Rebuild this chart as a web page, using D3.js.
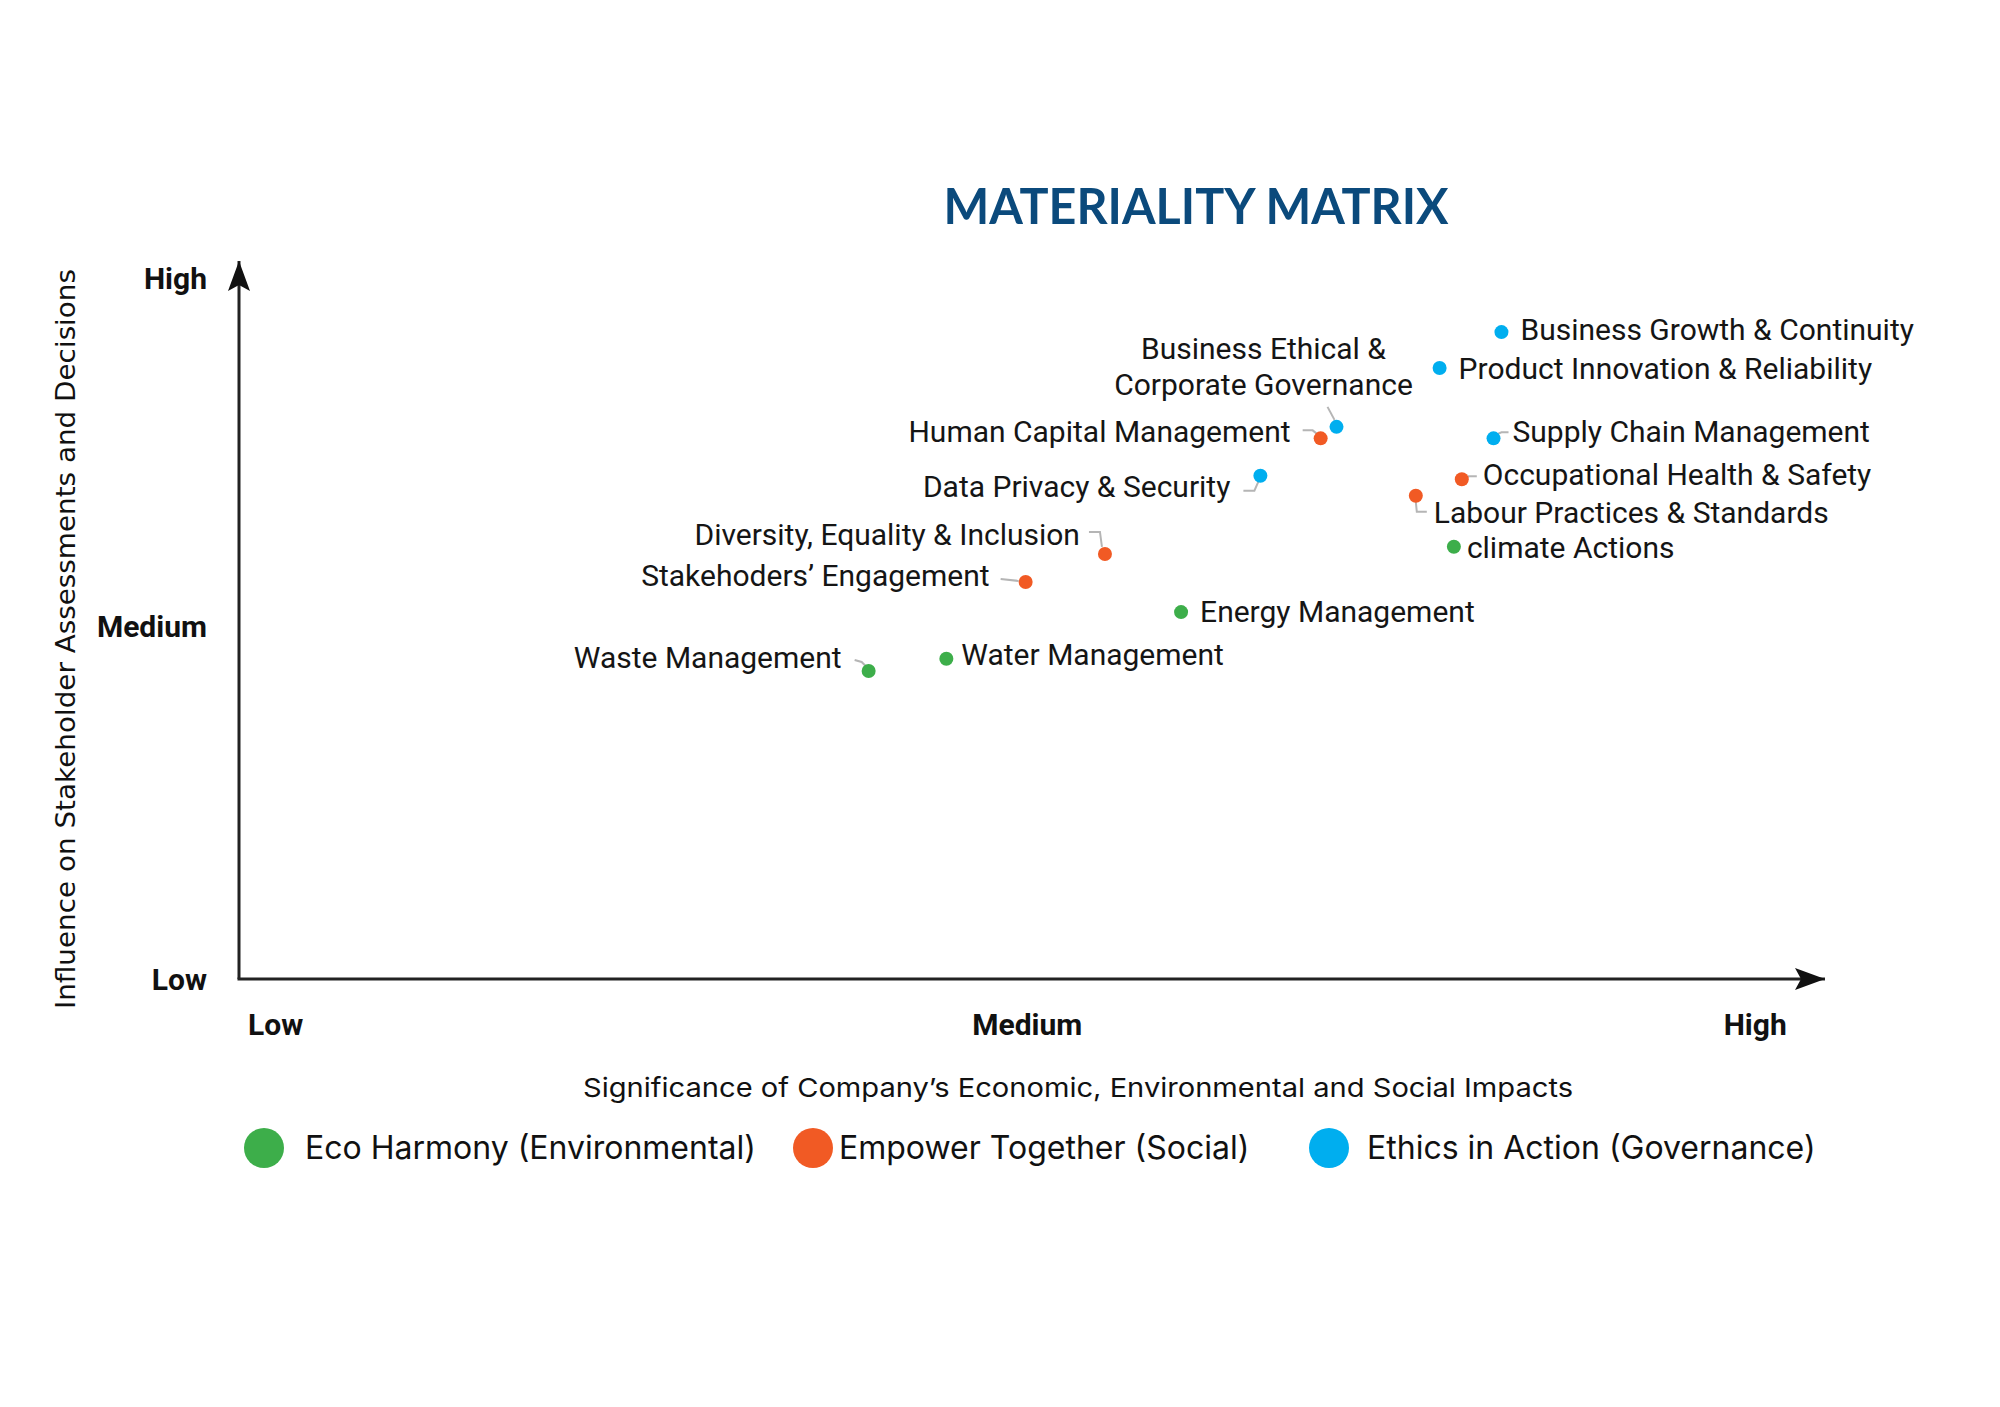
<!DOCTYPE html>
<html>
<head>
<meta charset="utf-8">
<script src="https://cdn.jsdelivr.net/npm/d3@7"></script>
<style>
  body { margin: 0; background: #fff; }
</style>
</head>
<body>
<div id="chart"></div>
<script>
// materiality topics (x = significance of impacts, y = influence on stakeholders, 0..10)
var topicNames = [
  "Business Growth & Continuity",
  "Product Innovation & Reliability",
  "Business Ethical & Corporate Governance",
  "Human Capital Management",
  "Supply Chain Management",
  "Data Privacy & Security",
  "Occupational Health & Safety",
  "Labour Practices & Standards",
  "climate Actions",
  "Diversity, Equality & Inclusion",
  "Stakehoders\u2019 Engagement",
  "Energy Management",
  "Water Management",
  "Waste Management"
];
var topicImpact    = [7.96, 7.57, 6.92, 6.82, 7.91, 6.44, 7.71, 7.42, 7.66, 5.46, 4.96, 5.94, 4.46, 3.97];
var topicInfluence = [9.01, 8.51, 7.69, 7.53, 7.53, 7.01, 6.96, 6.73, 6.02, 5.92, 5.53, 5.11, 4.46, 4.29];
var topicGroup     = [2, 2, 2, 1, 2, 2, 1, 1, 0, 1, 1, 0, 0, 0];

var groupNames  = ["Eco Harmony (Environmental)", "Empower Together (Social)", "Ethics in Action (Governance)"];
var groupColors = ["#3dae4a", "#f15a24", "#00aeef"];

var levelLabels = ["Low", "Medium", "High"];
var xLevelValues = [0, 4.97, 9.56];
var yLevelValues = [0, 4.92, 9.76];

var chartTitle = "MATERIALITY MATRIX";
var xTitle = "Significance of Company\u2019s Economic, Environmental and Social Impacts";
var yTitle = "Influence on Stakeholder Assessments and Decisions";

// label placement relative to each dot (layout only)
var labelLayout = [
  {anchor: "start", dx: 19, dy: 8},
  {anchor: "start", dx: 19, dy: 11},
  {anchor: "middle", dx: -73, dy: -68, lines: ["Business Ethical &", "Corporate Governance"], leader: [[-9, -20], [-2, -7]]},
  {anchor: "end", dx: -30, dy: 4, leader: [[-18, -8], [-8, -8], [-3, -4]]},
  {anchor: "start", dx: 19, dy: 4, leader: [[3, -4], [8, -6], [15, -6]]},
  {anchor: "end", dx: -30, dy: 21, leader: [[-17, 15], [-6, 15], [-2, 6]]},
  {anchor: "start", dx: 21, dy: 6, leader: [[6, -3], [15, -3]]},
  {anchor: "start", dx: 18, dy: 27, leader: [[0, 6], [1, 16], [11, 16]]},
  {anchor: "start", dx: 13, dy: 11},
  {anchor: "end", dx: -25, dy: -9, leader: [[-16, -22], [-5, -22], [-3, -7]]},
  {anchor: "end", dx: -36, dy: 4, leader: [[-25, -3], [-7, -1]]},
  {anchor: "start", dx: 19, dy: 10},
  {anchor: "start", dx: 15, dy: 6},
  {anchor: "end", dx: -27, dy: -3, leader: [[-14, -11], [-7, -9], [-3, -5]]}
];

const width = 2000, height = 1407;

const svg = d3.select("#chart").append("svg")
  .attr("width", width)
  .attr("height", height);

const x = d3.scaleLinear().domain([0, 10]).range([239, 1825]);
const y = d3.scaleLinear().domain([0, 10]).range([979, 261]);

// arrow heads
const defs = svg.append("defs");
defs.append("marker")
  .attr("id", "arrow")
  .attr("viewBox", "0 0 30 22")
  .attr("refX", 30).attr("refY", 11)
  .attr("markerWidth", 30).attr("markerHeight", 22)
  .attr("markerUnits", "userSpaceOnUse")
  .attr("orient", "auto")
  .append("path")
  .attr("d", "M0,0 L30,11 L0,22 L6,11 Z")
  .attr("fill", "#111");

// title
svg.append("text")
  .attr("x", 1196).attr("y", 224)
  .attr("text-anchor", "middle")
  .attr("font-family", "Lato, 'Open Sans', sans-serif")
  .attr("font-weight", 700)
  .attr("font-size", 50)
  .attr("textLength", 505)
  .attr("lengthAdjust", "spacingAndGlyphs")
  .attr("fill", "#0b4a7c")
  .text(chartTitle);

// axes
svg.append("line")
  .attr("x1", x(0)).attr("y1", y(0))
  .attr("x2", x(0)).attr("y2", y(10))
  .attr("stroke", "#222").attr("stroke-width", 3)
  .attr("marker-end", "url(#arrow)");
svg.append("line")
  .attr("x1", x(0) - 1.5).attr("y1", y(0))
  .attr("x2", x(10)).attr("y2", y(0))
  .attr("stroke", "#222").attr("stroke-width", 3)
  .attr("marker-end", "url(#arrow)");

// level labels
svg.append("g").selectAll("text")
  .data(levelLabels)
  .join("text")
  .attr("x", 207)
  .attr("y", (d, i) => y(yLevelValues[i]) + 11)
  .attr("text-anchor", "end")
  .attr("font-family", "Roboto, sans-serif")
  .attr("font-weight", 700)
  .attr("font-size", 30)
  .attr("fill", "#111")
  .text(d => d);

svg.append("g").selectAll("text")
  .data(levelLabels)
  .join("text")
  .attr("x", (d, i) => i == 0 ? x(xLevelValues[i]) + 9 : x(xLevelValues[i]))
  .attr("y", 1035)
  .attr("text-anchor", (d, i) => i == 0 ? "start" : "middle")
  .attr("font-family", "Roboto, sans-serif")
  .attr("font-weight", 700)
  .attr("font-size", 30)
  .attr("fill", "#111")
  .text(d => d);

// axis titles
svg.append("text")
  .attr("transform", "translate(75,639) rotate(-90)")
  .attr("text-anchor", "middle")
  .attr("font-family", "'DejaVu Sans', sans-serif")
  .attr("font-size", 26)
  .attr("textLength", 740)
  .attr("lengthAdjust", "spacingAndGlyphs")
  .attr("fill", "#111")
  .text(yTitle);

svg.append("text")
  .attr("x", 1078).attr("y", 1097)
  .attr("text-anchor", "middle")
  .attr("font-family", "Inter, sans-serif")
  .attr("font-size", 26)
  .attr("textLength", 990)
  .attr("lengthAdjust", "spacingAndGlyphs")
  .attr("fill", "#111")
  .text(xTitle);

// leader lines
const topics = topicNames.map((name, i) => ({
  name: name, impact: topicImpact[i], influence: topicInfluence[i], group: topicGroup[i], lay: labelLayout[i]
}));

svg.append("g").selectAll("path")
  .data(topics.filter(d => d.lay.leader))
  .join("path")
  .attr("d", d => d3.line()(d.lay.leader.map(p => [x(d.impact) + p[0], y(d.influence) + p[1]])))
  .attr("fill", "none")
  .attr("stroke", "#b5b5b5")
  .attr("stroke-width", 2);

// dots
svg.append("g").selectAll("circle")
  .data(topics)
  .join("circle")
  .attr("cx", d => x(d.impact))
  .attr("cy", d => y(d.influence))
  .attr("r", 7)
  .attr("fill", d => groupColors[d.group]);

// labels
const labels = svg.append("g").selectAll("text")
  .data(topics)
  .join("text")
  .attr("x", d => x(d.impact) + d.lay.dx)
  .attr("y", d => y(d.influence) + d.lay.dy)
  .attr("text-anchor", d => d.lay.anchor)
  .attr("font-family", "Roboto, sans-serif")
  .attr("font-size", 30)
  .attr("fill", "#151515");

labels.each(function(d) {
  const t = d3.select(this);
  if (d.lay.lines) {
    d.lay.lines.forEach((line, k) => {
      t.append("tspan")
        .attr("x", x(d.impact) + d.lay.dx)
        .attr("dy", k == 0 ? 0 : 36)
        .text(line);
    });
  } else {
    t.text(d.name);
  }
});

// legend
const legendX = [264, 813, 1329];
const legend = svg.append("g").selectAll("g")
  .data(groupNames)
  .join("g")
  .attr("transform", (d, i) => `translate(${legendX[i]},1148)`);
legend.append("circle")
  .attr("r", 20)
  .attr("fill", (d, i) => groupColors[i]);
legend.append("text")
  .attr("x", (d, i) => [41, 26, 38][i])
  .attr("y", 11)
  .attr("font-family", "Inter, sans-serif")
  .attr("font-size", 32)
  .attr("fill", "#111")
  .text(d => d);
</script>
</body>
</html>
